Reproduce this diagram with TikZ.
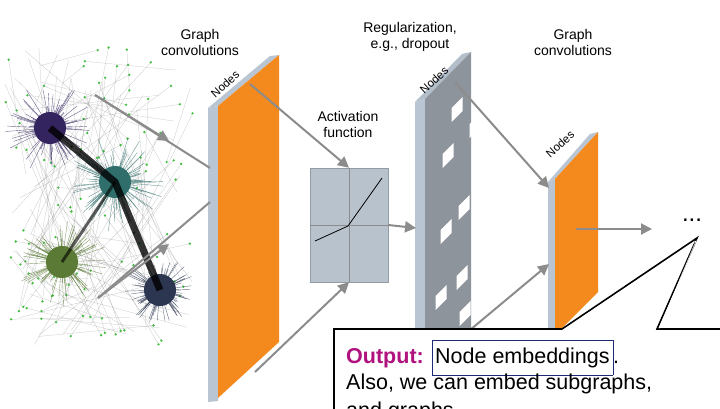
\documentclass[tikz,border=0pt]{standalone}
\usepackage{fontspec}
\setmainfont{Liberation Sans}
\usetikzlibrary{arrows.meta}
\definecolor{orng}{HTML}{F48A1E}
\definecolor{strip}{HTML}{B9C5D3}
\definecolor{drop}{HTML}{8E949B}
\definecolor{actbox}{HTML}{B8C2CC}
\definecolor{arr}{HTML}{8C8C8C}
\definecolor{outc}{HTML}{B0127E}
\definecolor{navy}{HTML}{1E2A78}
\definecolor{cA}{HTML}{33245F}
\definecolor{cB}{HTML}{2F6E6A}
\definecolor{cC}{HTML}{5A7A35}
\definecolor{cD}{HTML}{2C3650}
\tikzset{
  flow/.style={draw=arr,line width=2pt,-{Triangle[length=11pt,width=11pt]}},
  flowline/.style={draw=arr,line width=2pt},
  lbl/.style={font=\fontsize{14}{16}\selectfont,align=center},
  nodestxt/.style={font=\fontsize{11.5}{12}\selectfont,rotate=42},
  edge/.style={draw=black!45,line width=0.25pt,opacity=0.5},
}
\begin{document}
\begin{tikzpicture}[x=1pt,y=-1pt]
\useasboundingbox (0,0) rectangle (720,408);
\fill[white] (0,0) rectangle (720,408);
% ---- graph network
\pgfmathsetseed{7}
\foreach \i in {1,...,110}{
  \pgfmathsetmacro{\px}{rnd*190+5}\pgfmathsetmacro{\py}{rnd*300+45}
  \pgfmathsetmacro{\qx}{rnd*190+5}\pgfmathsetmacro{\qy}{rnd*300+45}
  \draw[edge] (\px,\py) -- (\qx,\qy);
  \fill[green!50!gray] (\px,\py) circle (1.3);
}
\foreach \cx/\cy/\col/\rr in {50/128/cA/45,115/182/cB/50,62/262/cC/45,160/290/cD/35}{
  \foreach \i in {1,...,140}{
    \pgfmathsetmacro{\a}{rnd*360}\pgfmathsetmacro{\d}{rnd*\rr}
    \draw[\col,line width=0.4pt,opacity=0.7] (\cx,\cy) -- ++(\a:\d);
  }
  \fill[\col] (\cx,\cy) circle (16);
}
\draw[black,line width=7pt,opacity=0.8] (50,128) -- (115,182) -- (160,290);
\draw[black,line width=3pt,opacity=0.6] (115,182) -- (62,262);
% ---- layer 1
\fill[strip] (208,108) -- (270,56) -- (279,55) -- (218,106) -- cycle;
\fill[strip] (208,108) -- (218,106) -- (218,401) -- (208,402) -- cycle;
\fill[orng] (218,106) -- (279,55) -- (279,342) -- (218,398) -- cycle;
\node[nodestxt] (n1) at (225,84) {Nodes};
\node[lbl] (t1) at (200,42) {Graph\\convolutions};
% ---- activation
\node[draw=actbox!80!black,fill=actbox,minimum width=78pt,minimum height=114pt,inner sep=0] (act) at (349,225) {};
\draw[arr,line width=0.6pt] (act.north) -- (act.south) (act.west) -- (act.east);
\draw[black,line width=0.8pt] (315,241) -- (348,226) -- (382,178);
\node[lbl] (t2) at (348,124) {Activation\\function};
% ---- dropout
\fill[strip!90!gray] (415,102) -- (462,54) -- (471,52) -- (425,99) -- cycle;
\fill[strip] (415,102) -- (425,99) -- (425,340) -- (415,342) -- cycle;
\fill[drop] (425,99) -- (471,52) -- (471,340) -- (425,340) -- cycle;
\foreach \x/\y in {457/104,475/120,448/150,464/202,446/226,462/272,441/292,465/308}{
  \fill[white] (\x-5.5,\y+4) -- (\x+5.5,\y-7) -- (\x+5.5,\y+7) -- (\x-5.5,\y+18) -- cycle;
}
\node[nodestxt] (n2) at (434,80) {Nodes};
\node[lbl] (t3) at (410,37) {Regularization,\\e.g., dropout};
% ---- layer 3
\fill[strip] (548,182) -- (590,134) -- (598,132) -- (555,179) -- cycle;
\fill[strip] (548,182) -- (555,179) -- (555,340) -- (548,340) -- cycle;
\fill[orng] (555,179) -- (598,132) -- (598,292) -- (555,335) -- cycle;
\node[nodestxt] (n3) at (560,144) {Nodes};
\node[lbl] (t4) at (573,42) {Graph\\convolutions};
\node[font=\fontsize{24}{24}\selectfont] (dots) at (692,220) {...};
% ---- arrows
\coordinate (g1) at (95,95); \coordinate (g1m) at (169,141); \coordinate (l1a) at (210,168);
\coordinate (g2) at (98,298); \coordinate (g2m) at (169,244); \coordinate (l1b) at (210,202);
\draw[flowline] (g1) -- (l1a); \draw[flow] (g1) -- (g1m);
\draw[flowline] (g2) -- (l1b); \draw[flow] (g2) -- (g2m);
\coordinate (l1t) at (250,84); \coordinate (l1bt) at (255,372);
\draw[flow] (l1t) -- (act.north);
\draw[flow] (l1bt) -- (act.south);
\coordinate (dl) at (416,228);
\draw[flow] (act.east) -- (dl);
\coordinate (dt) at (455,82); \coordinate (l3t) at (549,188);
\draw[flow] (dt) -- (l3t);
\coordinate (db) at (470,330); \coordinate (l3b) at (549,264);
\draw[flow] (db) -- (l3b);
\coordinate (l3c) at (576,229); \coordinate (l3e) at (652,229);
\draw[flow] (l3c) -- (l3e);
% ---- callout
\draw[black,line width=1.6pt,fill=white] (334,329) -- (562,329) -- (697,238) -- (657,329) -- (725,329) -- (725,412) -- (334,412) -- cycle;
\draw[white,line width=0.5pt] (564,329.5) -- (696,241) -- (659,328.5);
\begin{scope}
\clip (336,331) rectangle (720,408);
\node[anchor=north west,font=\fontsize{21.5}{28}\selectfont,inner sep=0,align=left] (out) at (346,340)
 {\textcolor{outc}{\bfseries Output:} \fcolorbox{navy}{white}{\strut Node embeddings}.\\[-2pt]
  Also, we can embed subgraphs,\\ and graphs};
\end{scope}
\end{tikzpicture}
\end{document}
